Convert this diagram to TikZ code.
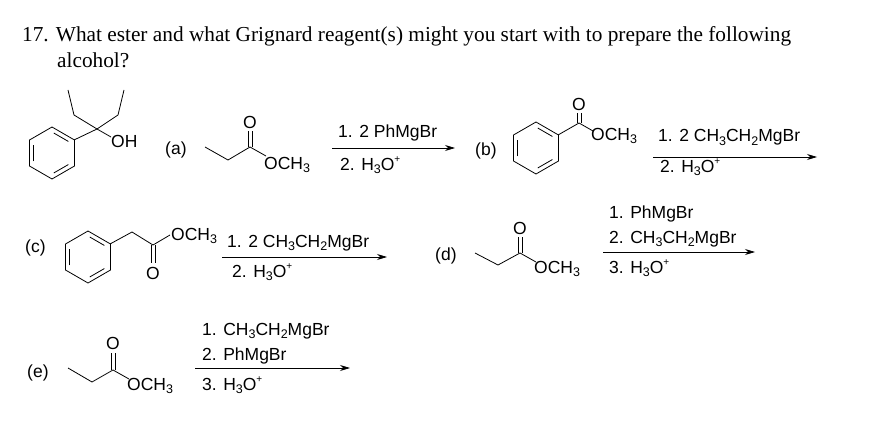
\documentclass[tikz,border=0pt]{standalone}
\usepackage{fontspec}
\setmainfont{Liberation Serif}
\setsansfont{Liberation Sans}
\usetikzlibrary{arrows.meta,calc}
\newcommand\benzring[3]{%
  \coordinate (#1t) at (#2,#3-26);
  \coordinate (#1ur) at (#2+22.5,#3-13);
  \coordinate (#1lr) at (#2+22.5,#3+13);
  \coordinate (#1b) at (#2,#3+26);
  \coordinate (#1ll) at (#2-22.5,#3+13);
  \coordinate (#1ul) at (#2-22.5,#3-13);
  \coordinate (#1it) at (#2,#3-21);
  \coordinate (#1iur) at (#2+18.2,#3-10.5);
  \coordinate (#1ilr) at (#2+18.2,#3+10.5);
  \coordinate (#1ib) at (#2,#3+21);
  \coordinate (#1ill) at (#2-18.2,#3+10.5);
  \coordinate (#1iul) at (#2-18.2,#3-10.5);
  \draw[bond] (#1t) -- (#1ur) -- (#1lr) -- (#1b) -- (#1ll) -- (#1ul) -- cycle;
  \draw[bond] ($(#1it)!0.1!(#1iur)$) -- ($(#1it)!0.9!(#1iur)$);
  \draw[bond] ($(#1ilr)!0.1!(#1ib)$) -- ($(#1ilr)!0.9!(#1ib)$);
  \draw[bond] ($(#1ill)!0.1!(#1iul)$) -- ($(#1ill)!0.9!(#1iul)$);
}
\newcommand\sbs[1]{\raisebox{-0.22em}{\fontsize{12.5}{12}\selectfont #1}}
\newcommand\sps[1]{\raisebox{0.45em}{\fontsize{10}{10}\selectfont #1}}
\begin{document}
\begin{tikzpicture}[x=1pt,y=-1pt,
  bond/.style={line width=0.8pt,line join=miter},
  lab/.style={font=\sffamily\fontsize{17.5}{20}\selectfont,inner sep=0pt,anchor=base west},
  rxn/.style={line width=0.8pt,-{Stealth[length=10pt,width=6pt]}},
  ttl/.style={font=\fontsize{21.3}{24}\selectfont,inner sep=0pt,anchor=base west}]
\useasboundingbox (0,0) rectangle (886,441);
\node[ttl] (t1) at (22,42) {17. What ester and what Grignard reagent(s) might you start with to prepare the following};
\node[ttl] (t2) at (57,68) {alcohol?};
% target alcohol
\benzring{r0}{52}{153}
\draw[bond] (74,140) -- (97,129) -- (74,115) -- (68,90);
\draw[bond] (97,129) -- (118,115) -- (124,90);
\draw[bond] (97,129) -- (111,137);
\node[lab] (oh) at (111,148) {OH};
% (a)
\node[lab] (la) at (165,154) {(a)};
\draw[bond] (205,147) -- (228,160) -- (250,147) -- (266,156);
\draw[bond] (248,147) -- (248,131);
\draw[bond] (252,147) -- (252,131);
\node[lab,anchor=center] (oa) at (250,122) {O};
\node[lab] (ma) at (264,169) {OCH\sbs{3}};
\coordinate (a1) at (332,148); \coordinate (a2) at (455,148);
\draw[rxn] (a1) -- (a2);
\node[lab] (a1t) at (338,138) {1. 2 PhMgBr};
\node[lab] (a2t) at (340,170) {2. H\sbs{3}O\sps{+}};
% (b)
\node[lab] (lb) at (475,156) {(b)};
\benzring{r1}{536}{148}
\draw[bond] (558,135) -- (579,123) -- (593,131);
\draw[bond] (577,123) -- (577,113);
\draw[bond] (581,123) -- (581,113);
\node[lab,anchor=center] (ob) at (579,104) {O};
\node[lab] (mb) at (591,140) {OCH\sbs{3}};
\coordinate (b1) at (653,157); \coordinate (b2) at (817,157);
\draw[rxn] (b1) -- (b2);
\node[lab] (b1t) at (658,142) {1. 2 CH\sbs{3}CH\sbs{2}MgBr};
\node[lab] (b2t) at (660,172) {2. H\sbs{3}O\sps{+}};
% (c)
\node[lab] (lc) at (25,252) {(c)};
\benzring{r2}{88}{257}
\draw[bond] (110,244) -- (132,232) -- (153,245) -- (170,235);
\draw[bond] (151,245) -- (151,263);
\draw[bond] (155,245) -- (155,263);
\node[lab,anchor=center] (oc) at (153,273) {O};
\node[lab] (mc) at (171,240) {OCH\sbs{3}};
\coordinate (c1) at (222,257); \coordinate (c2) at (387,257);
\draw[rxn] (c1) -- (c2);
\node[lab] (c1t) at (227,247) {1. 2 CH\sbs{3}CH\sbs{2}MgBr};
\node[lab] (c2t) at (232,277) {2. H\sbs{3}O\sps{+}};
% (d)
\node[lab] (ld) at (435,260) {(d)};
\draw[bond] (475,253) -- (498,265) -- (520,253) -- (536,262);
\draw[bond] (518,253) -- (518,237);
\draw[bond] (522,253) -- (522,237);
\node[lab,anchor=center] (od) at (520,228) {O};
\node[lab] (md) at (534,273) {OCH\sbs{3}};
\coordinate (d1) at (603,252); \coordinate (d2) at (755,252);
\draw[rxn] (d1) -- (d2);
\node[lab] (d1t) at (609,218) {1. PhMgBr};
\node[lab] (d2t) at (609,243) {2. CH\sbs{3}CH\sbs{2}MgBr};
\node[lab] (d3t) at (609,273) {3. H\sbs{3}O\sps{+}};
% (e)
\node[lab] (le) at (27,377) {(e)};
\draw[bond] (68,368) -- (92,382) -- (113,370) -- (129,379);
\draw[bond] (111,370) -- (111,353);
\draw[bond] (115,370) -- (115,353);
\node[lab,anchor=center] (oe) at (113,343) {O};
\node[lab] (me) at (127,390) {OCH\sbs{3}};
\coordinate (e1) at (195,368); \coordinate (e2) at (350,368);
\draw[rxn] (e1) -- (e2);
\node[lab] (e1t) at (202,335) {1. CH\sbs{3}CH\sbs{2}MgBr};
\node[lab] (e2t) at (202,360) {2. PhMgBr};
\node[lab] (e3t) at (202,390) {3. H\sbs{3}O\sps{+}};
\end{tikzpicture}
\end{document}
